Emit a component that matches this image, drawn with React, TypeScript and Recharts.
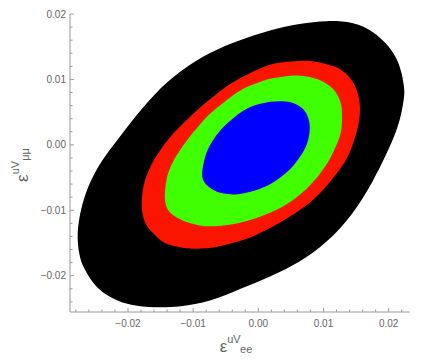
import React from 'react';
import { ComposedChart, Scatter, XAxis, YAxis } from 'recharts';

// contour boundaries: x, lower edge, upper edge
const blackX = [-0.02783, -0.02752, -0.02691, -0.02583, -0.0243, -0.0223, -0.01969, -0.01586, -0.01202, -0.00741, -0.00281, 0.0018, 0.0064, 0.01054, 0.01454, 0.01761, 0.02021, 0.02144, 0.02206, 0.02236, 0.02244];
const blackHigh = [-0.01391, -0.01131, -0.00856, -0.00566, -0.00275, -0.00015, 0.00336, 0.00795, 0.01131, 0.01422, 0.01606, 0.01758, 0.01858, 0.01901, 0.01881, 0.01743, 0.01498, 0.01284, 0.01086, 0.00887, 0.0081];
const blackLow = [-0.01391, -0.01682, -0.01865, -0.02049, -0.02232, -0.02355, -0.02454, -0.02488, -0.02477, -0.02401, -0.02202, -0.02018, -0.01797, -0.01498, -0.01063, -0.00566, -0.00031, 0.00275, 0.0052, 0.00719, 0.0081];

const redX = [-0.018, -0.0177, -0.01708, -0.01616, -0.01463, -0.01355, -0.01125, -0.00941, -0.00695, -0.00434, -0.00127, 0.00072, 0.00333, 0.0064, 0.00794, 0.01024, 0.01208, 0.01361, 0.01454, 0.01515, 0.01553, 0.01564];
const redHigh = [-0.00917, -0.00627, -0.00454, -0.0024, -0.00021, 0.00127, 0.00356, 0.00535, 0.00734, 0.00943, 0.01096, 0.01196, 0.01266, 0.01284, 0.01289, 0.01239, 0.01193, 0.01086, 0.00963, 0.00841, 0.00688, 0.0055];
const redLow = [-0.00917, -0.01116, -0.01261, -0.01346, -0.01498, -0.01529, -0.01583, -0.0159, -0.0158, -0.01511, -0.01427, -0.01327, -0.01197, -0.00994, -0.00891, -0.00662, -0.00436, -0.00222, 0.00015, 0.00199, 0.00382, 0.0055];

const greenX = [-0.01443, -0.01417, -0.01355, -0.01233, -0.01094, -0.00895, -0.00741, -0.00511, -0.00281, -0.00051, 0.0018, 0.0041, 0.00594, 0.00794, 0.00947, 0.01101, 0.01193, 0.01254, 0.0128, 0.01289];
const greenHigh = [-0.0081, -0.00535, -0.00332, -0.00122, 0.00076, 0.00313, 0.00485, 0.00665, 0.00841, 0.00933, 0.0102, 0.01047, 0.0107, 0.0104, 0.00994, 0.00902, 0.0081, 0.00688, 0.00581, 0.00433];
const greenLow = [-0.0081, -0.00948, -0.01044, -0.01124, -0.01185, -0.01239, -0.01249, -0.01231, -0.01193, -0.01131, -0.0104, -0.00933, -0.008, -0.00627, -0.00443, -0.00229, -0.00015, 0.00127, 0.0026, 0.00433];

const blueX = [-0.00869, -0.00849, -0.00787, -0.00665, -0.00542, -0.00358, -0.00173, 0.00026, 0.0018, 0.00379, 0.00533, 0.00686, 0.00763, 0.00804];
const blueHigh = [-0.00459, -0.00306, -0.00069, 0.00122, 0.00275, 0.00436, 0.00566, 0.00627, 0.00662, 0.00673, 0.0065, 0.00566, 0.00443, 0.00275];
const blueLow = [-0.00459, -0.0055, -0.00627, -0.00711, -0.00749, -0.00765, -0.00734, -0.00673, -0.00612, -0.00474, -0.00336, -0.00122, 0.00031, 0.00275];

const xTicks = [-0.028, -0.026, -0.024, -0.022, -0.02, -0.018, -0.016, -0.014, -0.012, -0.01, -0.008, -0.006, -0.004, -0.002, 0, 0.002, 0.004, 0.006, 0.008, 0.01, 0.012, 0.014, 0.016, 0.018, 0.02, 0.022];
const yTicks = [-0.024, -0.022, -0.02, -0.018, -0.016, -0.014, -0.012, -0.01, -0.008, -0.006, -0.004, -0.002, 0, 0.002, 0.004, 0.006, 0.008, 0.01, 0.012, 0.014, 0.016, 0.018, 0.02];
const majorValues = [-0.02, -0.01, 0, 0.01, 0.02];
const majorLabels = ['\u22120.02', '\u22120.01', '0.00', '0.01', '0.02'];

const xDomain = [-0.0289, 0.02328];
const yDomain = [-0.02555, 0.02];

const FONT = '"Liberation Sans", Arial, sans-serif';
const FRAME = '#9a9a9a';
const LABEL = '#666';

// closed outline: upper edge left→right, then lower edge right→left
const loop = (xs: number[], lo: number[], hi: number[]) => {
  const upper = xs.map((x, i) => ({ x, y: hi[i] }));
  const lower: { x: number; y: number }[] = [];
  for (let i = xs.length - 2; i >= 1; i--) lower.push({ x: xs[i], y: lo[i] });
  return upper.concat(lower);
};

const majorIndex = (v: number) => majorValues.findIndex((m) => Math.abs(m - v) < 1e-9);

const BottomTick = (props: any) => {
  const { x, y, payload } = props;
  const i = majorIndex(payload.value);
  return (
    <g>
      <line x1={x} y1={y} x2={x} y2={y - (i >= 0 ? 4 : 2.5)} stroke={FRAME} />
      {i >= 0 && (
        <text x={x} y={y + 15} textAnchor="middle" fontSize={10} fill={LABEL} fontFamily={FONT}>
          {majorLabels[i]}
        </text>
      )}
    </g>
  );
};
const TopTick = (props: any) => {
  const { x, y, payload } = props;
  const i = majorIndex(payload.value);
  return <line x1={x} y1={y} x2={x} y2={y + (i >= 0 ? 4 : 2.5)} stroke={FRAME} />;
};
const LeftTick = (props: any) => {
  const { x, y, payload } = props;
  const i = majorIndex(payload.value);
  return (
    <g>
      <line x1={x} y1={y} x2={x + (i >= 0 ? 4 : 2.5)} y2={y} stroke={FRAME} />
      {i >= 0 && (
        <text x={x - 4} y={y} dy="0.35em" textAnchor="end" fontSize={10} fill={LABEL} fontFamily={FONT}>
          {majorLabels[i]}
        </text>
      )}
    </g>
  );
};
const RightTick = (props: any) => {
  const { x, y, payload } = props;
  const i = majorIndex(payload.value);
  return <line x1={x} y1={y} x2={x - (i >= 0 ? 4 : 2.5)} y2={y} stroke={FRAME} />;
};

const XLabel = (props: any) => {
  const vb = props.viewBox || {};
  const cx = vb.x + vb.width / 2 - 4;
  const by = vb.y + 40;
  return (
    <text x={cx} y={by} textAnchor="middle" fill={LABEL} fontFamily={FONT}>
      <tspan fontSize={17}>ε</tspan>
      <tspan fontSize={11} dy={-9}>uV</tspan>
      <tspan fontSize={11} dy={10}>ee</tspan>
    </text>
  );
};
const YLabel = () => {
  const cx = 20;
  const cy = 157;
  return (
    <text x={cx} y={cy} transform={`rotate(-90, ${cx}, ${cy})`} textAnchor="middle" fill={LABEL} fontFamily={FONT}>
      <tspan fontSize={17}>ε</tspan>
      <tspan fontSize={11} dy={-9}>uV</tspan>
      <tspan fontSize={11} dy={10}>μμ</tspan>
    </text>
  );
};

const NoDot = () => <g />;

const contours = [
  { name: 'black', color: '#000000', data: loop(blackX, blackLow, blackHigh) },
  { name: 'red', color: '#fa1500', data: loop(redX, redLow, redHigh) },
  { name: 'green', color: '#40ff00', data: loop(greenX, greenLow, greenHigh) },
  { name: 'blue', color: '#0000ff', data: loop(blueX, blueLow, blueHigh) },
];

export default function App() {
  return (
    <ComposedChart width={415} height={355} margin={{ top: 6, right: 13, bottom: 0, left: 0 }}>
      <XAxis
        dataKey="x"
        type="number"
        domain={xDomain}
        allowDataOverflow
        ticks={xTicks}
        interval={0}
        tickSize={0}
        tickMargin={0}
        tick={<BottomTick />}
        height={51}
        axisLine={{ stroke: FRAME }}
        tickLine={false}
        label={<XLabel />}
      />
      <XAxis
        xAxisId="top"
        orientation="top"
        dataKey="x"
        type="number"
        domain={xDomain}
        allowDataOverflow
        ticks={xTicks}
        interval={0}
        tickSize={0}
        tickMargin={0}
        tick={<TopTick />}
        height={0}
        axisLine={{ stroke: FRAME }}
        tickLine={false}
      />
      <YAxis
        dataKey="y"
        type="number"
        domain={yDomain}
        allowDataOverflow
        ticks={yTicks}
        interval={0}
        tickSize={0}
        tickMargin={0}
        tick={<LeftTick />}
        width={62}
        axisLine={{ stroke: FRAME }}
        tickLine={false}
        label={<YLabel />}
      />
      <YAxis
        yAxisId="right"
        orientation="right"
        dataKey="y"
        type="number"
        domain={yDomain}
        allowDataOverflow
        ticks={yTicks}
        interval={0}
        tickSize={0}
        tickMargin={0}
        tick={<RightTick />}
        width={0}
        axisLine={{ stroke: FRAME }}
        tickLine={false}
      />
      {contours.map((c) => (
        <Scatter
          key={c.name}
          name={c.name}
          data={c.data}
          dataKey="y"
          shape={NoDot}
          line={{ fill: c.color, stroke: 'none' }}
          lineJointType="basisClosed"
          fill={c.color}
          isAnimationActive={false}
        />
      ))}
    </ComposedChart>
  );
}
